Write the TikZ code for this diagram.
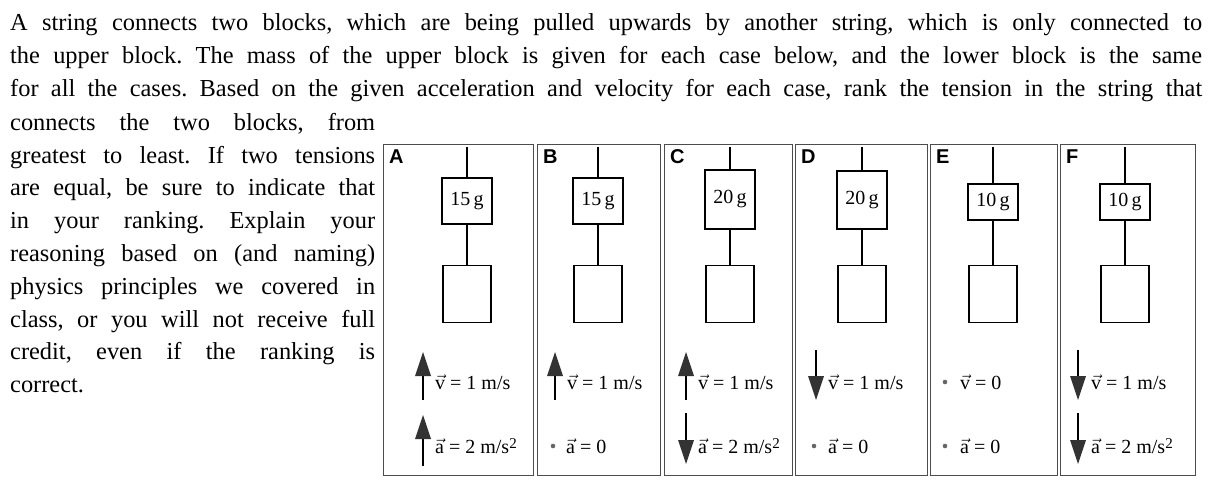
\documentclass[tikz,border=0pt]{standalone}
\usepackage{fontspec}
\setmainfont{Liberation Serif}
\newfontfamily\lab{Liberation Sans}
\frenchspacing
\begin{document}
\begin{tikzpicture}[x=1pt,y=-1pt,
  panel/.style={draw=black!70,line width=0.8pt},
  blk/.style={draw,line width=1.2pt,fill=white},
  str/.style={line width=1.2pt},
  vtxt/.style={anchor=west,font=\fontsize{20}{22}\selectfont,inner sep=0pt},
  plab/.style={anchor=base west,font=\lab\bfseries\fontsize{20}{22}\selectfont,inner sep=0pt},
  dotp/.style={fill=black!60,draw=none}]
\useasboundingbox (0,0) rectangle (1212,488);
\newcommand\UpArr[3]{\draw[line width=1.1pt] (#1,#3) -- (#1,#2+20);
  \fill[black!80] (#1,#2) -- (#1+8,#2+24) -- (#1-8,#2+24) -- cycle;}
\newcommand\DnArr[3]{\draw[line width=1.1pt] (#1,#2) -- (#1,#3-20);
  \fill[black!80] (#1,#3) -- (#1+8,#3-24) -- (#1-8,#3-24) -- cycle;}
\newcommand\sqr{\raisebox{0.55ex}{\fontsize{15}{15}\selectfont 2}}
\node[anchor=north west,inner sep=0pt,text width=1192pt,align=justify,font=\fontsize{24.4}{33.3}\selectfont] (p1) at (10,13)
 {A string connects two blocks, which are being pulled upwards by another string, which is only connected to\linebreak
 the upper block. The mass of the upper block is given for each case below, and the lower block is the same\linebreak
 for all the cases. Based on the given acceleration and velocity for each case, rank the tension in the string that\linebreak};
\node[anchor=north west,inner sep=0pt,text width=365pt,align=justify,font=\fontsize{24.4}{32.8}\selectfont] (p2) at (10,113)
 {connects the two blocks, from\linebreak greatest to least. If two tensions\linebreak are equal, be sure to indicate that\linebreak
 in your ranking. Explain your\linebreak reasoning based on (and naming)\linebreak physics principles we covered in\linebreak
 class, or you will not receive full\linebreak credit, even if the ranking is\linebreak correct.};
% panels
\foreach \l/\r/\t [count=\i] in {383/533/A,537/660/B,664/792/C,795/927/D,930/1057/E,1060/1195/F}{
  \draw[panel] (\l,144) rectangle (\r,475);
  \node[plab] (lab\i) at (\l+6,163) {\t};
}
% blocks
\foreach \c/\ta/\tb/\w/\m [count=\i] in {467/178/224/50/15,598/178/224/50/15,730/170/229/50/20,862/171/229/50/20,993/184/220/50/10,1125/184/220/50/10}{
  \coordinate (top\i) at (\c,147);
  \node[blk,minimum width=\w pt,minimum height={\tb-\ta},inner sep=0pt,font=\fontsize{20}{22}\selectfont] (u\i) at (\c,{(\ta+\tb)/2}) {\m\,g};
  \node[blk,minimum width=48pt,minimum height=57pt] (d\i) at (\c,294) {};
  \draw[str] (top\i) -- (u\i.north);
  \draw[str] (u\i.south) -- (d\i.north);
}
% velocity/acceleration rows
\UpArr{423}{352}{400}
\node[vtxt] (va) at (435,382) {$\vec{\mathrm{v}}$ = 1 m/s};
\UpArr{423}{415}{466}
\node[vtxt] (aa) at (435,446) {$\vec{\mathrm{a}}$ = 2 m/s\sqr};
\UpArr{555}{352}{400}
\node[vtxt] (vb) at (567,382) {$\vec{\mathrm{v}}$ = 1 m/s};
\fill[dotp] (553,446) circle (2.3);
\node[vtxt] (ab) at (566,446) {$\vec{\mathrm{a}}$ = 0};
\UpArr{686}{352}{400}
\node[vtxt] (vc) at (698,382) {$\vec{\mathrm{v}}$ = 1 m/s};
\DnArr{686}{413}{464}
\node[vtxt] (ac) at (698,446) {$\vec{\mathrm{a}}$ = 2 m/s\sqr};
\DnArr{816}{350}{400}
\node[vtxt] (vd) at (828,382) {$\vec{\mathrm{v}}$ = 1 m/s};
\fill[dotp] (814,446) circle (2.3);
\node[vtxt] (ad) at (828,446) {$\vec{\mathrm{a}}$ = 0};
\fill[dotp] (945,382) circle (2.3);
\node[vtxt] (ve) at (960,382) {$\vec{\mathrm{v}}$ = 0};
\fill[dotp] (945,446) circle (2.3);
\node[vtxt] (ae) at (960,446) {$\vec{\mathrm{a}}$ = 0};
\DnArr{1078}{350}{400}
\node[vtxt] (vf) at (1091,382) {$\vec{\mathrm{v}}$ = 1 m/s};
\DnArr{1078}{413}{464}
\node[vtxt] (af) at (1091,446) {$\vec{\mathrm{a}}$ = 2 m/s\sqr};
\end{tikzpicture}
\end{document}
